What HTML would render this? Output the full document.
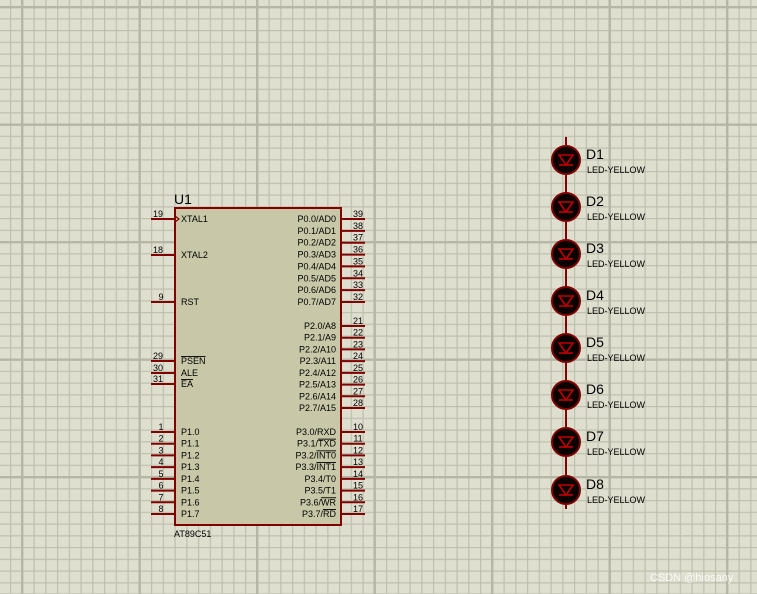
<!DOCTYPE html>
<html><head><meta charset="utf-8"><style>
html,body{margin:0;padding:0;background:#dfdfd0;}
svg{display:block;font-family:"Liberation Sans",Arial,sans-serif;}
</style></head><body>
<svg width="757" height="594" viewBox="0 0 757 594" xmlns="http://www.w3.org/2000/svg">
<defs>
<pattern id="minor" x="10" y="6.5" width="11.75" height="11.75" patternUnits="userSpaceOnUse">
<path d="M0.6 0V11.75M0 0.6H11.75" stroke="#bfbfae" stroke-width="1.2" fill="none"/>
</pattern>
<pattern id="major" x="21" y="6" width="117.5" height="117.5" patternUnits="userSpaceOnUse">
<path d="M1.2 0V117.5M0 1.2H117.5" stroke="#b6b6a6" stroke-width="2.4" fill="none"/>
</pattern>
<g id="led">
<circle cx="0" cy="0" r="14" fill="#0a0000" stroke="#800000" stroke-width="2"/>
<path d="M-7,-5 L7,-5 L0,5 Z" fill="none" stroke="#c00000" stroke-width="1.6"/>
<path d="M-7,5 H7" stroke="#c00000" stroke-width="1.6"/>
</g>
</defs>
<rect width="757" height="594" fill="#dfdfd0"/>
<rect width="757" height="594" fill="url(#minor)"/>
<rect width="757" height="594" fill="url(#major)"/>

<rect x="175" y="208" width="166" height="317" fill="#c8c8a8" stroke="#800000" stroke-width="2"/>
<text x="174" y="204" font-size="14" fill="#000">U1</text>
<text x="174" y="537" font-size="9" fill="#000">AT89C51</text>

<g stroke="#800000" stroke-width="2">
<path d="M151 219H175M151 255H175M151 302H175M151 361H175M151 373H175M151 384H175"/>
<path d="M151 432H175M151 443.7H175M151 455.4H175M151 467.1H175M151 478.9H175M151 490.6H175M151 502.3H175M151 514H175"/>
<path d="M341 219H365M341 230.9H365M341 242.7H365M341 254.6H365M341 266.4H365M341 278.3H365M341 290.1H365M341 302H365"/>
<path d="M341 326H365M341 337.7H365M341 349.4H365M341 361.1H365M341 372.9H365M341 384.6H365M341 396.3H365M341 408H365"/>
<path d="M341 432H365M341 443.7H365M341 455.4H365M341 467.1H365M341 478.9H365M341 490.6H365M341 502.3H365M341 514H365"/>
</g>
<path d="M175 216 L179 219 L175 222" fill="none" stroke="#800000" stroke-width="1.2"/>

<g font-size="9" fill="#000">
<g text-anchor="middle">
<text x="158" y="217">19</text><text x="158" y="253">18</text><text x="161" y="300">9</text>
<text x="158" y="359">29</text><text x="158" y="371">30</text><text x="158" y="382">31</text>
<text x="161" y="430">1</text><text x="161" y="441.7">2</text><text x="161" y="453.4">3</text><text x="161" y="465.1">4</text>
<text x="161" y="476.9">5</text><text x="161" y="488.6">6</text><text x="161" y="500.3">7</text><text x="161" y="512">8</text>
</g>
<text x="181" y="222">XTAL1</text><text x="181" y="258">XTAL2</text><text x="181" y="305">RST</text>
<text x="181" y="364" text-decoration="overline">PSEN</text><text x="181" y="376">ALE</text><text x="181" y="387" text-decoration="overline">EA</text>
<text x="181" y="435">P1.0</text><text x="181" y="446.7">P1.1</text><text x="181" y="458.4">P1.2</text><text x="181" y="470.1">P1.3</text>
<text x="181" y="481.9">P1.4</text><text x="181" y="493.6">P1.5</text><text x="181" y="505.3">P1.6</text><text x="181" y="517">P1.7</text>
<g text-anchor="middle">
<text x="358" y="217">39</text><text x="358" y="228.9">38</text><text x="358" y="240.7">37</text><text x="358" y="252.6">36</text>
<text x="358" y="264.4">35</text><text x="358" y="276.3">34</text><text x="358" y="288.1">33</text><text x="358" y="300">32</text>
<text x="358" y="324">21</text><text x="358" y="335.7">22</text><text x="358" y="347.4">23</text><text x="358" y="359.1">24</text>
<text x="358" y="370.9">25</text><text x="358" y="382.6">26</text><text x="358" y="394.3">27</text><text x="358" y="406">28</text>
<text x="358" y="430">10</text><text x="358" y="441.7">11</text><text x="358" y="453.4">12</text><text x="358" y="465.1">13</text>
<text x="358" y="476.9">14</text><text x="358" y="488.6">15</text><text x="358" y="500.3">16</text><text x="358" y="512">17</text>
</g>
<g text-anchor="end">
<text x="336" y="222">P0.0/AD0</text><text x="336" y="233.9">P0.1/AD1</text><text x="336" y="245.7">P0.2/AD2</text><text x="336" y="257.6">P0.3/AD3</text>
<text x="336" y="269.4">P0.4/AD4</text><text x="336" y="281.3">P0.5/AD5</text><text x="336" y="293.1">P0.6/AD6</text><text x="336" y="305">P0.7/AD7</text>
<text x="336" y="329">P2.0/A8</text><text x="336" y="340.7">P2.1/A9</text><text x="336" y="352.4">P2.2/A10</text><text x="336" y="364.1">P2.3/A11</text>
<text x="336" y="375.9">P2.4/A12</text><text x="336" y="387.6">P2.5/A13</text><text x="336" y="399.3">P2.6/A14</text><text x="336" y="411">P2.7/A15</text>
<text x="336" y="435">P3.0/RXD</text>
<text x="336" y="446.7">P3.1/<tspan text-decoration="overline">TXD</tspan></text>
<text x="336" y="458.4">P3.2/<tspan text-decoration="overline">INT0</tspan></text>
<text x="336" y="470.1">P3.3/<tspan text-decoration="overline">INT1</tspan></text>
<text x="336" y="481.9">P3.4/T0</text><text x="336" y="493.6">P3.5/T1</text>
<text x="336" y="505.3">P3.6/<tspan text-decoration="overline">WR</tspan></text>
<text x="336" y="517">P3.7/<tspan text-decoration="overline">RD</tspan></text>
</g>
</g>

<path d="M566 137V509" stroke="#800000" stroke-width="2"/>
<g>
<use href="#led" x="566" y="160"/><use href="#led" x="566" y="207"/><use href="#led" x="566" y="254"/><use href="#led" x="566" y="301"/>
<use href="#led" x="566" y="348"/><use href="#led" x="566" y="395"/><use href="#led" x="566" y="442"/><use href="#led" x="566" y="490"/>
</g>
<g fill="#000">
<text x="586" y="159" font-size="14">D1</text><text x="587" y="173" font-size="9">LED-YELLOW</text>
<text x="586" y="206" font-size="14">D2</text><text x="587" y="220" font-size="9">LED-YELLOW</text>
<text x="586" y="253" font-size="14">D3</text><text x="587" y="267" font-size="9">LED-YELLOW</text>
<text x="586" y="300" font-size="14">D4</text><text x="587" y="314" font-size="9">LED-YELLOW</text>
<text x="586" y="347" font-size="14">D5</text><text x="587" y="361" font-size="9">LED-YELLOW</text>
<text x="586" y="394" font-size="14">D6</text><text x="587" y="408" font-size="9">LED-YELLOW</text>
<text x="586" y="441" font-size="14">D7</text><text x="587" y="455" font-size="9">LED-YELLOW</text>
<text x="586" y="489" font-size="14">D8</text><text x="587" y="503" font-size="9">LED-YELLOW</text>
</g>
<text x="650" y="581" font-size="11" fill="#ffffff" opacity="0.85">CSDN @hiosany</text>
</svg>
</body></html>
